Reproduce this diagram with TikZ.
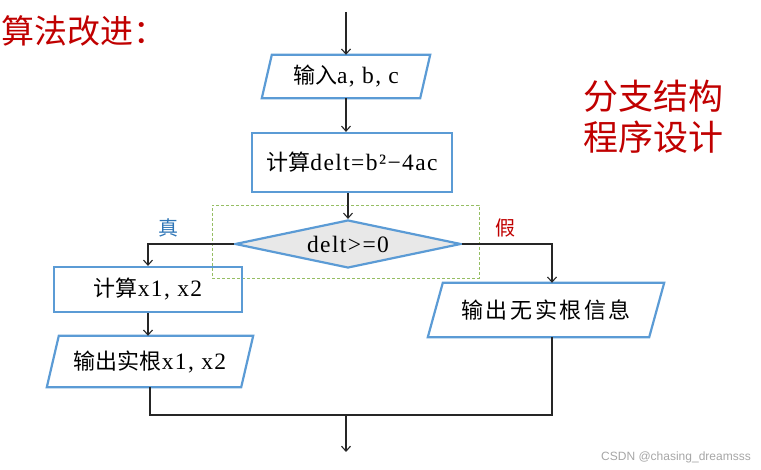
\documentclass[tikz,border=0pt]{standalone}
\usepackage{fontspec}
\setmainfont{Liberation Serif}
\newfontfamily\cjk{Noto Sans CJK SC}
\newfontfamily\cjkw[LetterSpace=12]{Noto Sans CJK SC}
\newfontfamily\latf[LetterSpace=6]{Liberation Serif}
\newcommand\lat{\latf\fontsize{23.5}{24}\selectfont}
\newfontfamily\wmfont{Liberation Sans}
\usetikzlibrary{shapes.geometric,arrows.meta,calc}
\definecolor{boxblue}{RGB}{91,155,213}
\definecolor{titlered}{RGB}{192,0,0}
\definecolor{truthblue}{RGB}{46,117,182}
\definecolor{selgreen}{RGB}{150,190,100}
\definecolor{diafill}{RGB}{232,232,232}
\newcommand\paral[2]{\draw[paraline] ($(#1.north west)+(#2,0)$) -- ($(#1.north east)+(#2,0)$) -- ($(#1.south east)-(#2,0)$) -- ($(#1.south west)-(#2,0)$) -- cycle;}
\tikzset{
  boxtext/.style={font=\fontsize{22}{24}\selectfont, inner sep=0pt},
  procbox/.style={boxtext, draw=boxblue, line width=2.2pt, rectangle},
  iobox/.style={boxtext, rectangle},
  paraline/.style={draw=boxblue, line width=2.2pt, line join=miter},
  decbox/.style={boxtext, diamond, aspect=4.7, draw=boxblue, fill=diafill, line width=2.2pt},
  arr/.style={-{Straight Barb[length=5pt,width=9pt]}, line width=1.1pt, draw=black!85},
  ln/.style={line width=1.1pt, draw=black!85},
  selbox/.style={draw=selgreen, densely dashed, line width=0.9pt, rectangle, inner sep=0pt},
}
\begin{document}
\begin{tikzpicture}[x=1pt,y=-1pt]
\useasboundingbox (0,0) rectangle (761,470);

% title texts
\node[anchor=west, text=titlered, font=\cjk\fontsize{33}{36}\selectfont, inner sep=0pt] (title) at (1,31) {算法改进：};
\node[align=center, text=titlered, font=\cjk\fontsize{35}{41}\selectfont, inner sep=0pt] (topic) at (653,117) {分支结构\\程序设计};

% selection frame
\node[selbox, minimum width=267pt, minimum height=73pt] (sel) at (345.5,241.5) {};

% nodes
\coordinate (start) at (346,12);
\node[iobox, minimum width=158pt, minimum height=43pt] (in) at (346,76.5) {{\cjk 输入}{\lat a, b, c}};
\node[procbox, minimum width=200pt, minimum height=59pt] (calc) at (352,162.5) {{\cjk 计算}{\lat delt=b²−4ac}};
\node[decbox, minimum width=226pt, minimum height=48pt] (dec) at (348,244) {\lat delt>=0};
\node[procbox, minimum width=188pt, minimum height=45pt] (xs) at (148,289.5) {{\cjk 计算}{\lat x1, x2}};
\node[iobox, minimum width=194pt, minimum height=51pt] (out1) at (150,361.5) {{\cjk 输出实根}{\lat x1, x2}};
\node[iobox, minimum width=221pt, minimum height=54pt] (out2) at (546,310) {\cjkw 输出无实根信息};
\coordinate (join) at (346,415);
\coordinate (exit) at (346,452);

\paral{in}{5}
\paral{out1}{6}
\paral{out2}{7.5}

% branch labels
\node[text=truthblue, font=\cjk\fontsize{20}{24}\selectfont, inner sep=0pt] (yes) at (168,228) {真};
\node[text=titlered, font=\cjk\fontsize{20}{24}\selectfont, inner sep=0pt] (no) at (505,228) {假};

% connectors
\draw[arr] (start) -- (in.north);
\draw[arr] (in.south) -- (in.south |- calc.north);
\draw[arr] (calc.south -| dec.north) -- (dec.north);
\draw[arr] (dec.west) -| (xs.north);
\draw[arr] (dec.east) -| ([xshift=6pt]out2.north);
\draw[arr] (xs.south) -- (xs.south |- out1.north);
\draw[ln] (out1.south) |- (join);
\draw[ln] ([xshift=6pt]out2.south) |- (join);
\draw[arr] (join) -- (exit);

% watermark
\node[anchor=east, text=black!35, font=\wmfont\fontsize{12}{14}\selectfont, inner sep=0pt] (wm) at (751,457) {CSDN @chasing\_dreamsss};
\end{tikzpicture}
\end{document}
